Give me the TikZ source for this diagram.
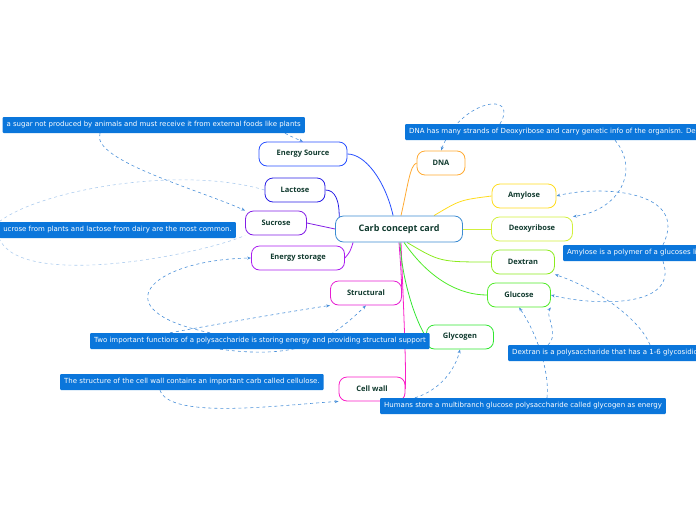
\documentclass[tikz,border=0pt]{standalone}
\usepackage{fontspec}
\setmainfont{Open Sans}
\newfontfamily\notefont{DejaVu Sans}
\usetikzlibrary{arrows.meta,backgrounds}
\definecolor{notebg}{HTML}{0B76DB}
\definecolor{dash}{HTML}{4A90D9}
\definecolor{txt}{HTML}{103A2E}
\definecolor{cES}{RGB}{40,80,255}
\definecolor{cLA}{RGB}{40,30,230}
\definecolor{cSU}{RGB}{130,30,230}
\definecolor{cEST}{RGB}{170,30,240}
\definecolor{cST}{RGB}{230,30,210}
\definecolor{cCW}{RGB}{250,30,200}
\definecolor{cGY}{RGB}{50,230,50}
\definecolor{cGL}{RGB}{80,235,40}
\definecolor{cDX}{RGB}{140,235,30}
\definecolor{cDE}{RGB}{210,240,60}
\definecolor{cAM}{RGB}{255,220,30}
\definecolor{cDNA}{RGB}{255,170,50}
\definecolor{cC}{RGB}{60,140,210}
\begin{document}
\begin{tikzpicture}[x=1pt,y=-1pt,
  topic/.style={draw=#1,line width=0.8pt,rounded corners=8pt,fill=white,minimum height=24pt,inner xsep=6pt,text=txt,font=\fontsize{7.5}{9}\selectfont\bfseries},
  note/.style={fill=notebg,rounded corners=1pt,text=white,minimum height=16pt,inner xsep=4pt,font=\notefont\fontsize{7}{8}\selectfont},
  br/.style={draw=#1,line width=0.8pt},
  rel/.style={draw=dash,dashed,line width=0.6pt,-{Stealth[length=4pt]}},
  faint/.style={draw=dash!45,dashed,line width=0.6pt}]
\useasboundingbox (0,0) rectangle (696,520);
\clip (0,0) rectangle (696,520);
\node[topic=cC, minimum width=127pt, minimum height=26pt, font=\fontsize{9}{11}\selectfont\bfseries] (C) at (399,229) {Carb concept card};
\node[topic=cES, minimum width=88pt] (ES) at (303,154) {Energy Source};
\node[topic=cLA, minimum width=60pt] (LA) at (295,190) {Lactose};
\node[topic=cSU, minimum width=61pt] (SU) at (276,223) {Sucrose};
\node[topic=cEST, minimum width=93pt] (EST) at (298,258) {Energy storage};
\node[topic=cST, minimum width=71pt] (ST) at (366,293) {Structural};
\node[topic=cCW, minimum width=66pt] (CW) at (372,389) {Cell wall};
\node[topic=cGY, minimum width=67pt] (GY) at (460,337) {Glycogen};
\node[topic=cGL, minimum width=63pt] (GL) at (519,295) {Glucose};
\node[topic=cDX, minimum width=63pt] (DX) at (523,262) {Dextran};
\node[topic=cDE, minimum width=81pt] (DE) at (532,229) {Deoxyribose};
\node[topic=cAM, minimum width=64pt] (AM) at (524,196) {Amylose};
\node[topic=cDNA, minimum width=48pt] (DNA) at (441,163) {DNA};
\begin{scope}[on background layer]
\path[br=cES] (C.north west)++(58,0) .. controls (385,180) and (365,154) .. (ES.east);
\path[br=cLA] (C.west)++(4,-8) .. controls (340,200) and (335,190) .. (LA.east);
\path[br=cSU] (C.west) -- (SU.east);
\path[br=cEST] (C.south west)++(18,0) .. controls (350,252) .. (EST.east);
\path[br=cST] (C.south) .. controls (401,270) .. (ST.east);
\path[br=cCW] (C.south)++(2,0) .. controls (404,320) and (406,360) .. (CW.east);
\path[br=cGY] (C.south)++(1,0) .. controls (402,280) and (415,320) .. (GY.west);
\path[br=cGL] (C.south)++(5,0) .. controls (430,280) and (460,295) .. (GL.west);
\path[br=cDX] (C.south)++(8,0) .. controls (440,262) .. (DX.west);
\path[br=cDE] (C.east) -- (DE.west);
\path[br=cAM] (C.north)++(35,0) .. controls (460,200) .. (AM.west);
\path[br=cDNA] (C.north)++(2,0) .. controls (408,185) and (410,165) .. (DNA.west);
\end{scope}
\node[note, anchor=east] (N1) at (305,125) {a sugar not produced by animals and must receive it from external foods like plants};
\node[note, anchor=west] (N2) at (405,132) {DNA has many strands of Deoxyribose and carry genetic info of the organism. Deoxyribose is a sugar};
\node[note, anchor=east] (N3) at (236,230) {ucrose from plants and lactose from dairy are the most common.};
\node[note, anchor=west] (N4) at (563,253) {Amylose is a polymer of a glucoses linked together};
\node[note, anchor=west] (N5) at (508,353) {Dextran is a polysaccharide that has a 1-6 glycosidic bond};
\node[note, anchor=west] (N6) at (90,341) {Two important functions of a polysaccharide is storing energy and providing structural support};
\node[note, anchor=west] (N7) at (60,382) {The structure of the cell wall contains an important carb called cellulose.};
\node[note, anchor=west] (N8) at (380,406) {Humans store a multibranch glucose polysaccharide called glycogen as energy};
\begin{scope}[on background layer]
\draw[rel] (N1.south east)++(-20,0) .. controls (290,136) .. (ES.north);
\draw[rel] (N1.south east)++(-205,0) .. controls (90,160) and (200,190) .. (SU.north west);
\draw[faint] (LA.west) .. controls (180,165) and (40,190) .. (N3.north west);
\draw[faint] (N3.south west) .. controls (20,290) and (200,255) .. (SU.south west);
\draw[rel] (N6.north west)++(120,0) .. controls (100,310) and (150,260) .. (EST.west);
\draw[rel] (N6.south west)++(130,0) .. controls (300,360) and (330,340) .. (ST.south);
\draw[rel] (N6.north west)++(80,0) .. controls (240,320) and (300,310) .. (ST.south west);
\draw[rel] (N7.south west)++(100,0) .. controls (170,420) and (280,405) .. (CW.south west);
\draw[rel] (N8.north west)++(35,0) .. controls (440,390) and (455,370) .. (GY.south);
\draw[rel] (N8.north west)++(167,0) .. controls (550,370) and (535,330) .. (GL.south);
\draw[rel] (N5.north west)++(40,0) .. controls (560,335) and (545,315) .. (GL.south east);
\draw[rel] (N5.north west)++(142,0) .. controls (640,320) and (600,290) .. (DX.south east);
\draw[rel] (N4.north west)++(100,0) .. controls (690,190) and (600,185) .. (AM.east);
\draw[rel] (N4.south west)++(100,0) .. controls (680,310) and (590,305) .. (GL.east);
\draw[rel] (N2.south west)++(210,0) .. controls (640,170) and (620,210) .. (DE.north east);
\draw[rel] (N2.north west)++(95,0) .. controls (520,90) and (460,100) .. (DNA.north);
\end{scope}
\end{tikzpicture}
\end{document}
